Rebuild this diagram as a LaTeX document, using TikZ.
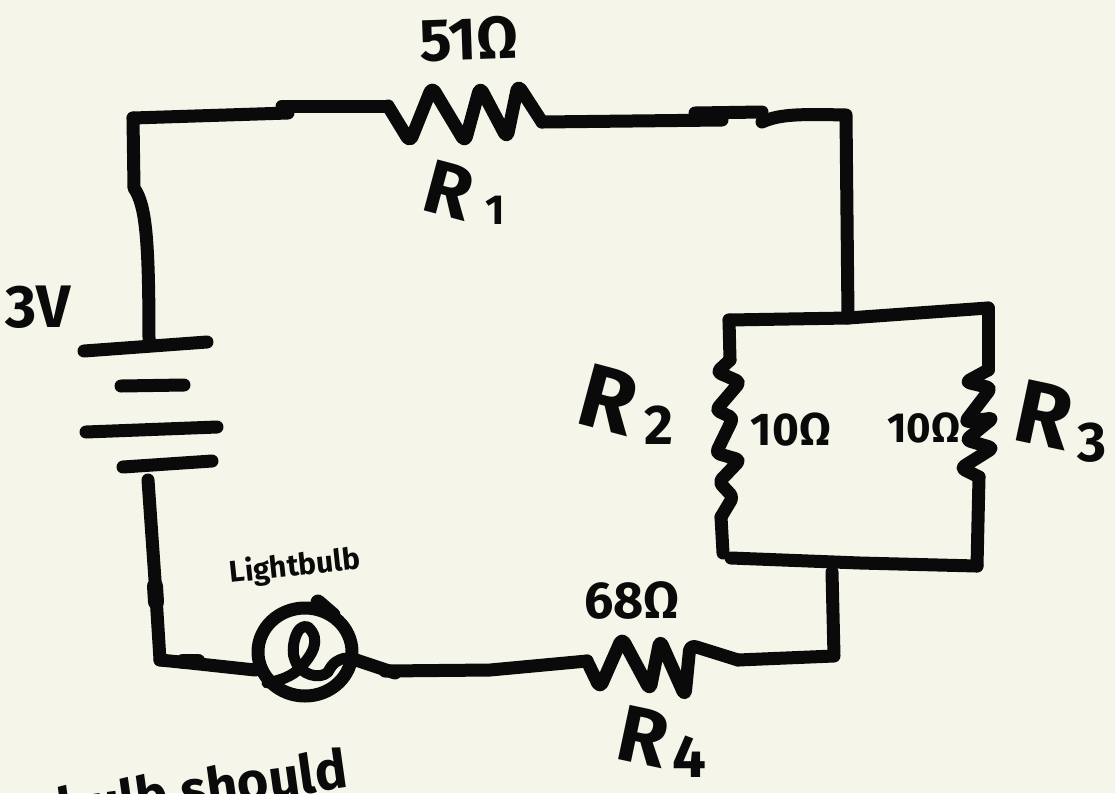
\documentclass[tikz,border=0pt]{standalone}
\usepackage{fontspec}
\setmainfont{Fira Sans}
\definecolor{paper}{HTML}{F5F6E9}
\definecolor{ink}{HTML}{0A0A0A}
\tikzset{
  wire/.style={draw=ink,line width=13pt,line cap=round,line join=round},
  coil/.style={wire,rounded corners=6pt},
  lab/.style={text=ink,inner sep=0pt,font=\bfseries\fontsize{#1}{#1}\selectfont},
}
\begin{document}
\begin{tikzpicture}[x=1pt,y=-1pt]
\path[fill=paper,use as bounding box] (0,0) rectangle (1115,793);
% junctions
\coordinate (tl) at (133,118);
\coordinate (tr) at (846,115);
\coordinate (bl) at (160,660);
\coordinate (jt) at (848,318);
\coordinate (jb) at (832,572);
\coordinate (br) at (834,656);
\coordinate (p1) at (729,320);
\coordinate (p2) at (988,308);
\coordinate (p3) at (731,558);
\coordinate (p4) at (977,566);
\coordinate (r1a) at (388,106);
\coordinate (r1b) at (542,122);
\coordinate (r4a) at (587,661);
\coordinate (r4b) at (738,660);
\coordinate (b1) at (255,670);
\coordinate (b2) at (356,660);
\coordinate (batp) at (149,342);
\coordinate (batn) at (148,480);
% top wire
\draw[wire] (tl) -- (288,113);
\draw[wire] (282,106) -- (r1a);
\draw[coil] (r1a) -- (410,142) -- (432,87) -- (465,142) -- (480,87) -- (507,138) -- (518,85) -- (r1b);
\draw[wire] (r1b) -- (722,120);
\draw[wire] (695,113) -- (762,112);
\draw[wire] (762,122) .. controls (780,114) and (800,114) .. (tr) -- (jt);
% left wire and battery
\draw[wire] (tl) -- (134,188) .. controls (146,205) and (149,240) .. (batp);
\draw[wire] (batn) -- (155,580) -- (bl);
\draw[wire,line width=16pt] (155,586) -- (156,602);
\draw[wire] (84,351) -- (207,342);
\draw[wire] (121,386) -- (184,385);
\draw[wire] (86,432) -- (217,427);
\draw[wire] (123,467) -- (212,461);
% bottom wire
\draw[wire] (bl) -- (190,663) -- (b1);
\draw[wire,line width=15pt] (183,661) -- (198,661);
\draw[wire] (b2) -- (395,673);
\draw[wire] (385,671) -- (490,670) -- (r4a);
\draw[coil] (r4a) -- (600,688) -- (622,638) -- (650,690) -- (660,640) -- (685,696) -- (690,645) -- (r4b);
\draw[wire] (r4b) -- (br) -- (jb);
% parallel branch
\draw[wire] (p1) -- (jt) -- (p2);
\draw[wire] (p1) -- (730,360);
\draw[wire] (p2) -- (988,370);
\draw[coil,rounded corners=4pt] (730,360) -- (717,372) -- (740,382) -- (716,410) -- (733,418) -- (716,453) -- (740,460) -- (719,482) -- (733,497) -- (721,517);
\draw[wire] (721,517) -- (723,553);
\draw[coil,rounded corners=4pt] (988,370) -- (966,382) -- (991,388) -- (965,422) -- (993,418) -- (966,440) -- (993,448) -- (961,468) -- (979,477);
\draw[wire] (979,477) -- (p4);
\draw[wire] (p3) -- (860,563) -- (p4);
% bulb
\draw[wire] (305,652) ellipse[x radius=47pt,y radius=44pt];
\draw[wire,line width=15pt] (318,602) -- (333,615);
\draw[wire,line width=11pt] (267,683) .. controls (282,680) and (292,676) .. (300,668)
  .. controls (312,655) and (322,640) .. (308,627)
  .. controls (296,622) and (290,650) .. (295,660)
  .. controls (300,675) and (320,680) .. (328,672)
  .. controls (333,662) and (338,660) .. (345,658);
% labels
\node[lab=60,rotate=2] (l51) at (469,39) {51Ω};
\node[lab=76,rotate=-15] (lr1) at (449,190) {R};
\node[lab=42] (lr1s) at (495,210) {1};
\node[lab=60] (l3v) at (38,307) {3V};
\node[lab=90,rotate=-15] (lr2) at (608,400) {R};
\node[lab=56] (lr2s) at (659,425) {2};
\node[lab=90,rotate=-12] (lr3) at (1044,415) {R};
\node[lab=56] (lr3s) at (1092,443) {3};
\node[lab=46] (l10a) at (791,430) {10Ω};
\node[lab=42] (l10b) at (924,428) {10Ω};
\node[lab=52] (l68) at (632,600) {68Ω};
\node[lab=80,rotate=-12] (lr4) at (643,737) {R};
\node[lab=60] (lr4s) at (689,757) {4};
\node[lab=30,rotate=6] (lbulb) at (295,567) {Lightbulb};
\node[lab=54,rotate=8,anchor=base west] (lnote) at (60,828) {bulb should};
\end{tikzpicture}
\end{document}
